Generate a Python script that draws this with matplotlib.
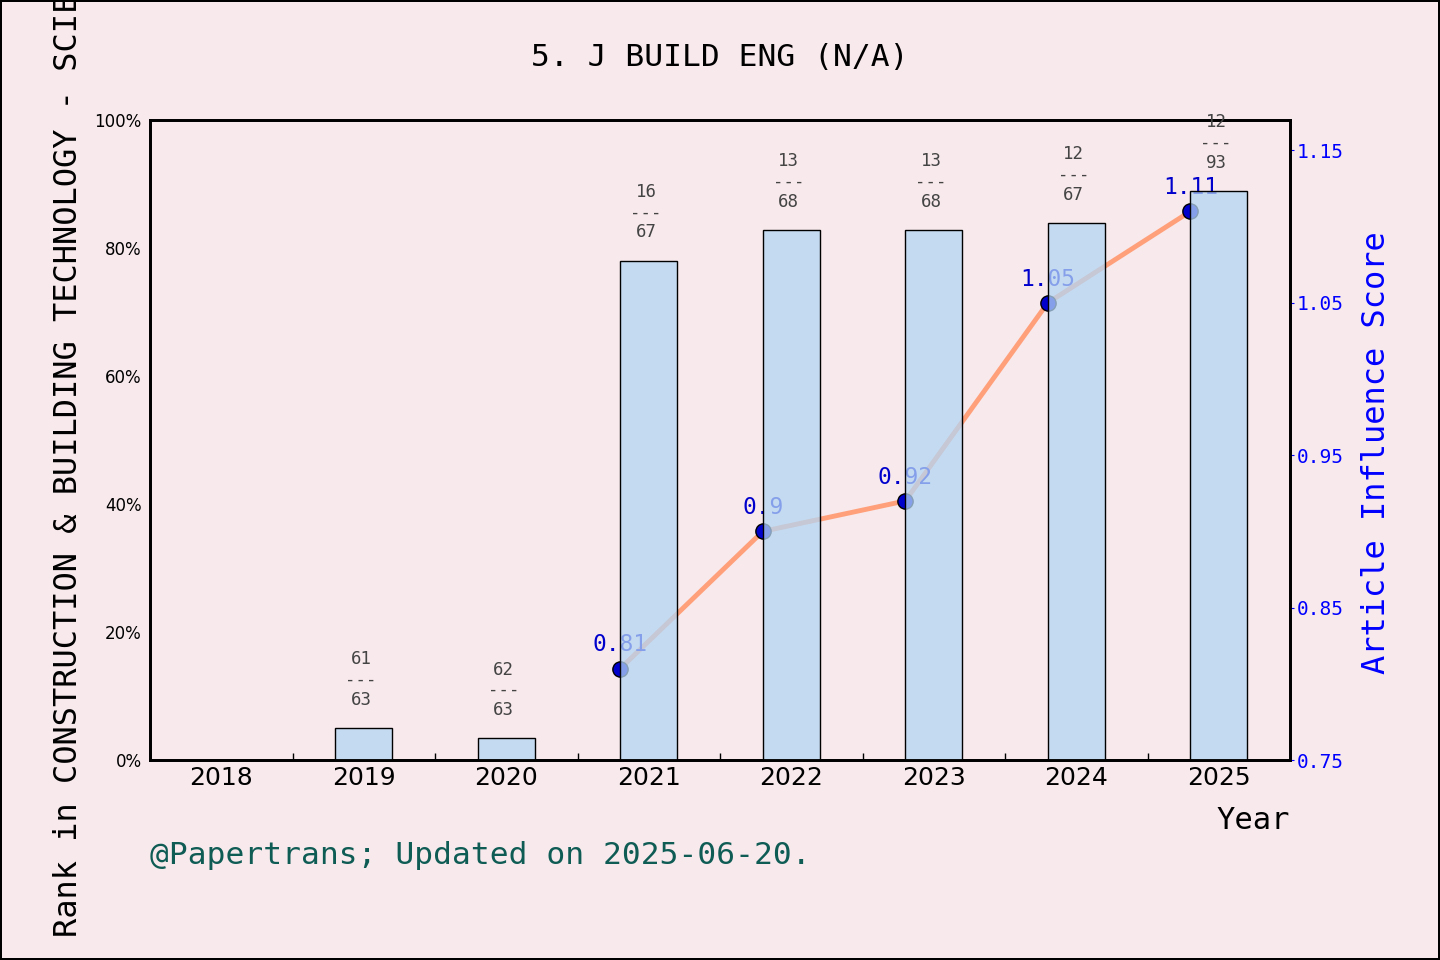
import matplotlib
matplotlib.use('Agg')
from matplotlib import pyplot
from matplotlib.colors import to_rgba
from matplotlib.ticker import FixedLocator, PercentFormatter


years = ['2018', '2019', '2020', '2021', '2022', '2023', '2024', '2025']
rank_pct = [0, 5.0, 3.4, 78.0, 82.8, 82.8, 83.9, 88.9]
rank_num = [None, 61, 62, 16, 13, 13, 12, 12]
rank_tot = [None, 63, 63, 67, 68, 68, 67, 93]
ais_years = ['2021', '2022', '2023', '2024', '2025']
ais_values = [0.81, 0.90, 0.92, 1.05, 1.11]
ais_labels = ['0.81', '0.9', '0.92', '1.05', '1.11']

mono = 'DejaVu Sans Mono'
pink = '#f8e9ec'
bar_w = 0.4

fig = pyplot.figure(figsize=(14.4, 9.6), dpi=100, facecolor=pink,
                    edgecolor='black', linewidth=1.5)
ax = fig.add_axes([150 / 1440, 1 - 760 / 960, 1140 / 1440, 640 / 960])
ax2 = ax.twinx()
# bars sit above the line so the line shows through them
ax.set_zorder(ax2.get_zorder() + 1)
ax.patch.set_visible(False)
ax2.patch.set_facecolor('white')

xs = list(range(len(years)))
ax.bar(xs, rank_pct, width=bar_w, color=to_rgba('#b3d6f4', 0.75),
       edgecolor='black', linewidth=1)
for x, pct, n, t in zip(xs, rank_pct, rank_num, rank_tot):
    if n is None:
        continue
    ax.annotate(f'{n}\n---\n{t}', xy=(x, pct), xytext=(-2, 14),
                textcoords='offset points', ha='center', va='bottom',
                fontsize=12.5, color='#444444', linespacing=1.15,
                family=mono, annotation_clip=False)

ax.set_xlim(-0.5, 7.5)
ax.set_ylim(0, 100)
ax.set_xticks(xs)
ax.set_xticklabels(years, fontsize=18)
ax.xaxis.set_minor_locator(FixedLocator([x + 0.5 for x in xs[:-1]]))
ax.tick_params(axis='x', which='major', length=0, pad=4)
ax.tick_params(axis='x', which='minor', direction='in', length=5, width=1)
ax.set_yticks([0, 20, 40, 60, 80, 100])
ax.yaxis.set_major_formatter(PercentFormatter(decimals=0))
ax.tick_params(axis='y', length=0, labelsize=12, pad=6)
ax.set_xlabel('Year', fontsize=22, family=mono, loc='right', labelpad=12)
ax.set_ylabel('Rank in CONSTRUCTION & BUILDING TECHNOLOGY - SCIE',
              fontsize=23, family=mono)
ax.yaxis.set_label_coords(-0.058, 0.46)
for sp in ax.spines.values():
    sp.set_linewidth(2)

# points sit on the left edge of each bar
ax_x = [years.index(y) - bar_w / 2 for y in ais_years]
ax2.plot(ax_x, ais_values, '-', color='#ffa07a', linewidth=3.5, zorder=2)
ax2.plot(ax_x, ais_values, 'o', color='#0000cd', markersize=11,
         markeredgecolor='black', markeredgewidth=1, zorder=3)
for x, v, lab in zip(ax_x, ais_values, ais_labels):
    ax2.annotate(lab, xy=(x, v), xytext=(0, 17), textcoords='offset points',
                 ha='center', va='center', fontsize=16.5, family=mono,
                 color='#0000cd')
ax2.set_ylim(0.75, 1.17)
ax2.set_yticks([0.75, 0.85, 0.95, 1.05, 1.15])
ax2.tick_params(axis='y', colors='blue', labelsize=14, length=3, pad=2)
for lab in ax2.get_yticklabels():
    lab.set_family(mono)
ax2.set_ylabel('Article Influence Score', fontsize=23, family=mono,
               color='blue')
ax2.yaxis.set_label_coords(1.062, 0.48)
for sp in ax2.spines.values():
    sp.set_linewidth(2)

fig.text(0.5, 1 - 57 / 960, '5. J BUILD ENG (N/A)', fontsize=22.5,
         family=mono, ha='center', va='center')
fig.text(150 / 1440, 1 - 855 / 960, '@Papertrans; Updated on 2025-06-20.',
         fontsize=22.5, family=mono, color='#0f5c55', ha='left', va='center')

fig.savefig('out.png', dpi=100, facecolor=pink, edgecolor='black')
pyplot.close(fig)
